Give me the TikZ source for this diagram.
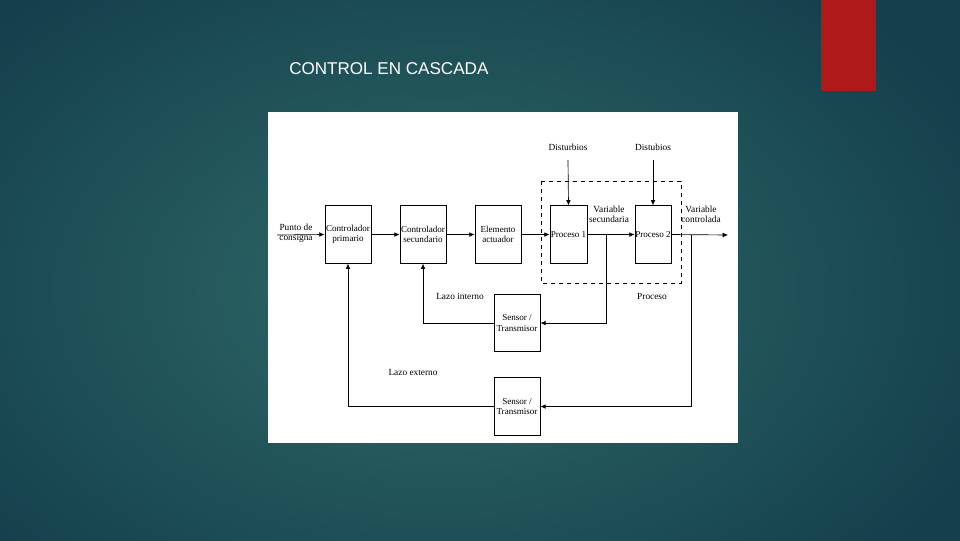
\documentclass[tikz,border=0pt]{standalone}
\usepackage{fontspec}
\setmainfont{Liberation Serif}
\newfontfamily\titlefont{Liberation Sans}
\usetikzlibrary{arrows.meta}
\definecolor{bgdark}{HTML}{143F4C}
\definecolor{bglight}{HTML}{2F6A68}
\definecolor{redbar}{HTML}{B0191A}
\begin{document}
\begin{tikzpicture}[x=0.75pt,y=-0.75pt,
  blk/.style={draw,line width=0.6pt,fill=white,minimum width=34.5pt,minimum height=43pt,inner sep=0pt,align=center,font=\fontsize{6.8}{7.6}\selectfont},
  lbl/.style={align=center,font=\fontsize{7}{7.6}\selectfont,inner sep=0pt},
  ar/.style={-{Latex[length=4pt,width=3.5pt]},line width=0.5pt}]
\useasboundingbox (0,0) rectangle (960,540);
\begin{scope}
\clip (0,0) rectangle (960,540);
\fill[bgdark] (-2,-2) rectangle (962,542);
\shade[inner color=bglight,outer color=bgdark] (440,290) ellipse [x radius=600, y radius=400];
\end{scope}
\fill[redbar] (821,0) rectangle (876,91);
\node[anchor=west,text=white,font=\titlefont\fontsize{12.8}{14}\selectfont,inner sep=0pt] (title) at (289,69) {CONTROL EN CASCADA};
\fill[white] (268,112) rectangle (738,443);
% boxes
\node[blk] (cp) at (348,234.5) {Controlador\\primario};
\node[blk] (cs) at (423,234.5) {Controlador\\secundario};
\node[blk] (ea) at (498,234.5) {Elemento\\actuador};
\node[blk,minimum width=27.75pt] (p1) at (568.5,234.5) {Proceso 1};
\node[blk,minimum width=27pt] (p2) at (653,234.5) {Proceso 2};
\node[blk] (s1) at (517,323) {Sensor /\\Transmisor};
\node[blk] (s2) at (517,406.5) {Sensor /\\Transmisor};
\draw[dashed,line width=0.4pt] (541,181) rectangle (681,283);
% coordinates
\coordinate (in) at (277,235);
\coordinate (out) at (728,235);
\coordinate (bi) at (606,235);
\coordinate (bo) at (691,235);
\coordinate (d1) at (568,160);
\coordinate (d2) at (653,160);
% main line
\draw[ar] (in) -- (cp.west);
\draw[ar] (cp.east) -- (cs.west);
\draw[ar] (cs.east) -- (ea.west);
\draw[ar] (ea.east) -- (p1.west);
\draw[ar] (p1.east) -- (p2.west);
\draw[ar] (p2.east) -- (out);
\draw[ar] (d1) -- (p1.north);
\draw[ar] (d2) -- (p2.north);
% feedback
\draw[ar] (bi) |- (s1.east);
\draw[ar] (s1.west) -| (cs.south);
\draw[ar] (bo) |- (s2.east);
\draw[ar] (s2.west) -| (cp.south);
% labels
\node[lbl] (tdist1) at (568,147) {Disturbios};
\node[lbl] (tdist2) at (653,147) {Distubios};
\node[lbl] (tvs) at (609,214) {Variable\\secundaria};
\node[lbl] (tvc) at (701,214) {Variable\\controlada};
\node[lbl] (tpc) at (296,233) {Punto de\\consigna};
\node[lbl] (tli) at (460,296) {Lazo interno};
\node[lbl] (tpr) at (652,296) {Proceso};
\node[lbl] (tle) at (413,372) {Lazo externo};
\end{tikzpicture}
\end{document}
